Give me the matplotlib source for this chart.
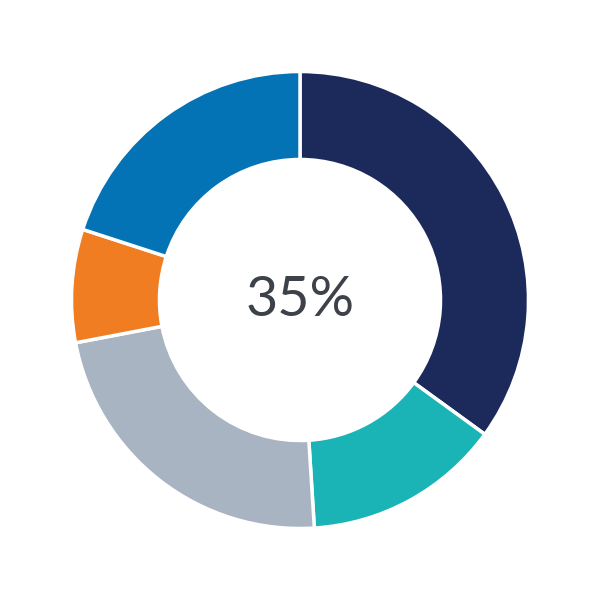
import matplotlib
matplotlib.use("Agg")
import matplotlib.pyplot as plt

labels = ["A", "B", "C", "D", "E"]
values = [35, 14, 23, 8, 20]
colors = ["#1b2a5a", "#1ab4b7", "#a9b4c2", "#f07d22", "#0473b5"]
center_text = "35%"

fig = plt.figure(figsize=(6, 6), dpi=100)
ax = fig.add_axes([0, 0, 1, 1])
ax.pie(values, colors=colors, startangle=90, counterclock=False,
       radius=1.0,
       wedgeprops=dict(width=0.385, edgecolor="white", linewidth=2.5))
ax.text(0, 0, center_text, ha="center", va="center", fontsize=40,
        color="#3d4149", family="Lato")
h = 300 / 228.5
ax.set_xlim(-h, h)
ax.set_ylim(-h, h)
ax.set_aspect("equal")
ax.axis("off")
fig.savefig("out.png", dpi=100, facecolor="white")
